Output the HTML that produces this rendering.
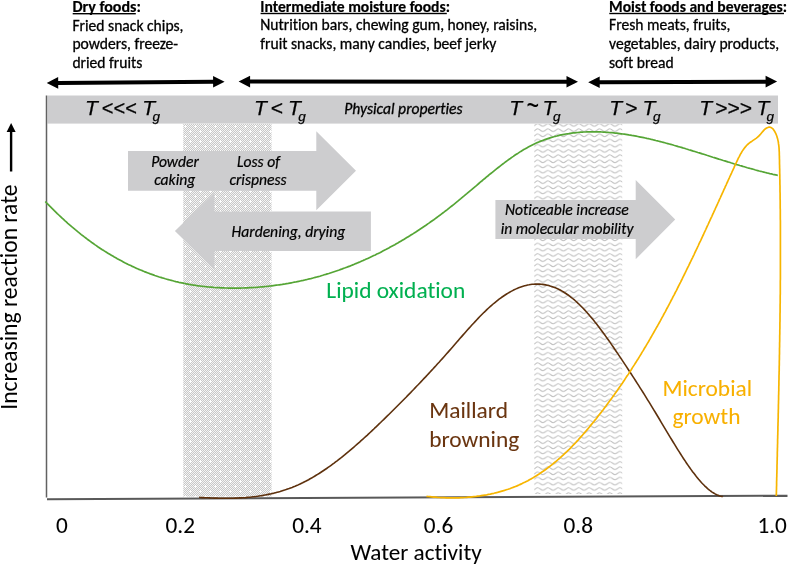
<!DOCTYPE html>
<html><head><meta charset="utf-8"><title>Water activity</title>
<style>html,body{margin:0;padding:0;background:#fff;overflow:hidden}svg{display:block}text{font-variant-ligatures:none;font-kerning:normal}</style>
</head><body>
<svg width="789" height="565" viewBox="0 0 789 565">
<defs>
<pattern id="dots" patternUnits="userSpaceOnUse" width="10" height="10" x="183" y="124">
<rect width="10" height="10" fill="#f4f4f4"/>
<path d="M0,0h1v1h-1zM2,0h1v1h-1zM4,0h1v1h-1zM6,0h1v1h-1zM8,0h1v1h-1zM1,1h1v1h-1zM3,1h1v1h-1zM5,1h1v1h-1zM7,1h1v1h-1zM9,1h1v1h-1zM0,2h1v1h-1zM2,2h1v1h-1zM4,2h1v1h-1zM6,2h1v1h-1zM8,2h1v1h-1zM1,3h1v1h-1zM3,3h1v1h-1zM5,3h1v1h-1zM7,3h1v1h-1zM9,3h1v1h-1zM0,4h1v1h-1zM2,4h1v1h-1zM4,4h1v1h-1zM6,4h1v1h-1zM8,4h1v1h-1zM1,5h1v1h-1zM3,5h1v1h-1zM5,5h1v1h-1zM7,5h1v1h-1zM9,5h1v1h-1zM0,6h1v1h-1zM2,6h1v1h-1zM4,6h1v1h-1zM6,6h1v1h-1zM8,6h1v1h-1zM1,7h1v1h-1zM3,7h1v1h-1zM5,7h1v1h-1zM7,7h1v1h-1zM9,7h1v1h-1zM0,8h1v1h-1zM2,8h1v1h-1zM4,8h1v1h-1zM6,8h1v1h-1zM8,8h1v1h-1zM1,9h1v1h-1zM3,9h1v1h-1zM5,9h1v1h-1zM7,9h1v1h-1zM9,9h1v1h-1z" fill="#c8c8c8"/>
<path d="M2,2h1v1h-1zM3,2h1v1h-1zM1,2h1v1h-1zM2,3h1v1h-1zM2,1h1v1h-1zM7,7h1v1h-1zM8,7h1v1h-1zM6,7h1v1h-1zM7,8h1v1h-1zM7,6h1v1h-1z" fill="#ffffff"/>
</pattern>
<pattern id="waves" patternUnits="userSpaceOnUse" width="10.3" height="5.2" x="535.1" y="123">
<rect width="10.3" height="5.2" fill="#ffffff"/>
<path d="M-7.7,0.6 C-5.9,0.6 -4.4,3.3 -2.55,3.3 C-0.7,3.3 0.8,0.6 2.6,0.6 C4.4,0.6 5.9,3.3 7.75,3.3 C9.6,3.3 11.1,0.6 12.9,0.6" fill="none" stroke="#bcbcbc" stroke-width="0.9"/>
</pattern>
</defs>

<text textLength="68.45" lengthAdjust="spacingAndGlyphs" x="72.4" y="11.8" font-size="16" font-weight="bold" font-family="Carlito, 'Liberation Sans', sans-serif" stroke="#000" stroke-width="0.2">Dry foods:</text><rect x="72.7" y="13.0" width="63.10000000000001" height="1.4" fill="#000"/><text textLength="111.11" lengthAdjust="spacingAndGlyphs" x="72.4" y="30.5" font-size="15.6" font-family="Carlito, 'Liberation Sans', sans-serif" stroke="#000" stroke-width="0.3">Fried snack chips,</text><text textLength="105.70" lengthAdjust="spacingAndGlyphs" x="72.4" y="49.3" font-size="15.6" font-family="Carlito, 'Liberation Sans', sans-serif" stroke="#000" stroke-width="0.3">powders, freeze-</text><text textLength="69.98" lengthAdjust="spacingAndGlyphs" x="72.4" y="68.0" font-size="15.6" font-family="Carlito, 'Liberation Sans', sans-serif" stroke="#000" stroke-width="0.3">dried fruits</text>
<text textLength="189.69" lengthAdjust="spacingAndGlyphs" x="260.3" y="11.600000000000001" font-size="15.6" font-weight="bold" font-family="Carlito, 'Liberation Sans', sans-serif" stroke="#000" stroke-width="0.2">Intermediate moisture foods:</text><rect x="260.6" y="12.8" width="186.2" height="1.4" fill="#000"/><text textLength="276.91" lengthAdjust="spacingAndGlyphs" x="260.3" y="30.3" font-size="15.6" font-family="Carlito, 'Liberation Sans', sans-serif" stroke="#000" stroke-width="0.3">Nutrition bars, chewing gum, honey, raisins,</text><text textLength="236.05" lengthAdjust="spacingAndGlyphs" x="260.3" y="49.099999999999994" font-size="15.6" font-family="Carlito, 'Liberation Sans', sans-serif" stroke="#000" stroke-width="0.3">fruit snacks, many candies, beef jerky</text>
<text textLength="178.09" lengthAdjust="spacingAndGlyphs" x="609.0" y="11.600000000000001" font-size="15.6" font-weight="bold" font-family="Carlito, 'Liberation Sans', sans-serif" stroke="#000" stroke-width="0.2">Moist foods and beverages:</text><rect x="609.3" y="12.8" width="174.7" height="1.4" fill="#000"/><text textLength="121.44" lengthAdjust="spacingAndGlyphs" x="609.0" y="30.3" font-size="15.6" font-family="Carlito, 'Liberation Sans', sans-serif" stroke="#000" stroke-width="0.3">Fresh meats, fruits,</text><text textLength="170.22" lengthAdjust="spacingAndGlyphs" x="609.0" y="49.099999999999994" font-size="15.6" font-family="Carlito, 'Liberation Sans', sans-serif" stroke="#000" stroke-width="0.3">vegetables, dairy products,</text><text textLength="64.69" lengthAdjust="spacingAndGlyphs" x="609.0" y="67.8" font-size="15.6" font-family="Carlito, 'Liberation Sans', sans-serif" stroke="#000" stroke-width="0.3">soft bread</text>
<polygon points="46.70,83.00 58.16,77.12 58.19,80.92 213.09,79.78 213.06,75.98 224.60,81.70 213.14,87.58 213.11,83.78 58.21,84.92 58.24,88.72" fill="#000"/>
<polygon points="238.60,81.60 250.10,75.80 250.10,79.60 566.50,79.70 566.50,75.90 578.00,81.70 566.50,87.50 566.50,83.70 250.10,83.60 250.10,87.40" fill="#000"/>
<polygon points="588.20,82.30 599.68,76.46 599.69,80.26 765.59,79.64 765.58,75.84 777.10,81.60 765.62,87.44 765.61,83.64 599.71,84.26 599.72,88.06" fill="#000"/>
<rect x="47.5" y="95.5" width="730.5" height="28.1" fill="#cdcdcf"/>
<rect x="183.3" y="124" width="88.2" height="372.6" fill="url(#dots)"/>
<rect x="534.3" y="124" width="87.9" height="370" fill="url(#waves)"/>
<text x="84.9" y="115.4" font-size="21" font-family="'Liberation Sans', Arial, sans-serif" font-style="italic" stroke="#000" stroke-width="0.25">T</text>
<text x="0" y="0" transform="translate(101.6,115.4) scale(0.95,1)" font-size="21" font-family="'Liberation Sans', Arial, sans-serif" font-style="italic" stroke="#000" stroke-width="0.25">&lt;&lt;&lt;</text>
<text x="142.3" y="115.4" font-size="21" font-family="'Liberation Sans', Arial, sans-serif" font-style="italic" stroke="#000" stroke-width="0.25">T</text>
<text x="152.6" y="120.60000000000001" font-size="13.5" font-family="'Liberation Sans', Arial, sans-serif" font-style="italic" stroke="#000" stroke-width="0.25">g</text>
<text x="254.0" y="115.4" font-size="21" font-family="'Liberation Sans', Arial, sans-serif" font-style="italic" stroke="#000" stroke-width="0.25">T</text>
<text x="270.5" y="115.4" font-size="21" font-family="'Liberation Sans', Arial, sans-serif" font-style="italic" stroke="#000" stroke-width="0.25">&lt;</text>
<text x="288.0" y="115.4" font-size="21" font-family="'Liberation Sans', Arial, sans-serif" font-style="italic" stroke="#000" stroke-width="0.25">T</text>
<text x="298.2" y="120.60000000000001" font-size="13.5" font-family="'Liberation Sans', Arial, sans-serif" font-style="italic" stroke="#000" stroke-width="0.25">g</text>
<text x="509.2" y="115.4" font-size="21" font-family="'Liberation Sans', Arial, sans-serif" font-style="italic" stroke="#000" stroke-width="0.25">T</text>
<text x="0" y="7.6" transform="translate(526.2,104.7) scale(1.02,1.5)" font-size="21" font-family="'Liberation Sans', Arial, sans-serif" font-style="italic">~</text>
<text x="542.6" y="115.4" font-size="21" font-family="'Liberation Sans', Arial, sans-serif" font-style="italic" stroke="#000" stroke-width="0.25">T</text>
<text x="553.0" y="120.60000000000001" font-size="13.5" font-family="'Liberation Sans', Arial, sans-serif" font-style="italic" stroke="#000" stroke-width="0.25">g</text>
<text x="609.2" y="115.4" font-size="21" font-family="'Liberation Sans', Arial, sans-serif" font-style="italic" stroke="#000" stroke-width="0.25">T</text>
<text x="625.0" y="115.4" font-size="21" font-family="'Liberation Sans', Arial, sans-serif" font-style="italic" stroke="#000" stroke-width="0.25">&gt;</text>
<text x="642.6" y="115.4" font-size="21" font-family="'Liberation Sans', Arial, sans-serif" font-style="italic" stroke="#000" stroke-width="0.25">T</text>
<text x="653.0" y="120.60000000000001" font-size="13.5" font-family="'Liberation Sans', Arial, sans-serif" font-style="italic" stroke="#000" stroke-width="0.25">g</text>
<text x="699.2" y="115.4" font-size="21" font-family="'Liberation Sans', Arial, sans-serif" font-style="italic" stroke="#000" stroke-width="0.25">T</text>
<text x="715.0" y="115.4" font-size="21" font-family="'Liberation Sans', Arial, sans-serif" font-style="italic" stroke="#000" stroke-width="0.25">&gt;&gt;&gt;</text>
<text x="756.4" y="115.4" font-size="21" font-family="'Liberation Sans', Arial, sans-serif" font-style="italic" stroke="#000" stroke-width="0.25">T</text>
<text x="766.5" y="120.60000000000001" font-size="13.5" font-family="'Liberation Sans', Arial, sans-serif" font-style="italic" stroke="#000" stroke-width="0.25">g</text>
<text textLength="118.42" lengthAdjust="spacingAndGlyphs" x="344.2" y="113.5" font-size="15.6" text-anchor="start" font-family="Carlito, 'Liberation Sans', sans-serif" fill="#000" stroke="#000" stroke-width="0.3" font-style="italic">Physical properties</text>
<polygon points="128.0,150.9 316.3,150.9 316.3,131.3 356.0,170.8 316.3,210.3 316.3,190.7 128.0,190.7" fill="#cdcdcf"/>
<polygon points="370.9,211.5 214.4,211.5 214.4,192.6 174.9,231.1 214.4,269.6 214.4,251.0 370.9,251.0" fill="#cdcdcf"/>
<polygon points="495.4,200.0 635.7,200.0 635.7,180.1 675.2,219.6 635.7,259.2 635.7,239.0 495.4,239.0" fill="#cdcdcf"/>
<text textLength="47.64" lengthAdjust="spacingAndGlyphs" x="175" y="166.7" font-size="15.6" text-anchor="middle" font-family="Carlito, 'Liberation Sans', sans-serif" fill="#000" stroke="#000" stroke-width="0.22" font-style="italic">Powder</text>
<text textLength="41.11" lengthAdjust="spacingAndGlyphs" x="174.7" y="185.4" font-size="15.6" text-anchor="middle" font-family="Carlito, 'Liberation Sans', sans-serif" fill="#000" stroke="#000" stroke-width="0.22" font-style="italic">caking</text>
<text textLength="42.98" lengthAdjust="spacingAndGlyphs" x="258.5" y="166.7" font-size="15.6" text-anchor="middle" font-family="Carlito, 'Liberation Sans', sans-serif" fill="#000" stroke="#000" stroke-width="0.22" font-style="italic">Loss of</text>
<text textLength="57.11" lengthAdjust="spacingAndGlyphs" x="258.1" y="185.4" font-size="15.6" text-anchor="middle" font-family="Carlito, 'Liberation Sans', sans-serif" fill="#000" stroke="#000" stroke-width="0.22" font-style="italic">crispness</text>
<text textLength="113.64" lengthAdjust="spacingAndGlyphs" x="288.4" y="236.8" font-size="15.6" text-anchor="middle" font-family="Carlito, 'Liberation Sans', sans-serif" fill="#000" stroke="#000" stroke-width="0.22" font-style="italic">Hardening, drying</text>
<text textLength="123.69" lengthAdjust="spacingAndGlyphs" x="566.9" y="215.3" font-size="15.6" text-anchor="middle" font-family="Carlito, 'Liberation Sans', sans-serif" fill="#000" stroke="#000" stroke-width="0.22" font-style="italic">Noticeable increase</text>
<text textLength="132.75" lengthAdjust="spacingAndGlyphs" x="567.0" y="234.4" font-size="15.6" text-anchor="middle" font-family="Carlito, 'Liberation Sans', sans-serif" fill="#000" stroke="#000" stroke-width="0.22" font-style="italic">in molecular mobility</text>
<line x1="46.5" y1="95.5" x2="46.5" y2="497.5" stroke="#626262" stroke-width="1.5"/>
<line x1="47" y1="499.3" x2="787.5" y2="495.7" stroke="#595959" stroke-width="2"/>
<path d="M45.3,201.5 L46.8,203.1 L48.3,204.6 L49.8,206.2 L51.3,207.7 L52.8,209.2 L54.3,210.7 L55.8,212.1 L57.3,213.6 L58.8,215.0 L60.3,216.4 L61.8,217.8 L63.3,219.2 L64.8,220.6 L66.3,221.9 L67.8,223.3 L69.3,224.6 L70.8,225.9 L72.3,227.2 L73.8,228.4 L75.3,229.7 L76.8,230.9 L78.3,232.2 L79.8,233.4 L81.3,234.6 L82.8,235.7 L84.3,236.9 L85.8,238.0 L87.3,239.2 L88.8,240.3 L90.3,241.4 L91.8,242.5 L93.3,243.5 L94.8,244.6 L96.3,245.6 L97.8,246.7 L99.3,247.7 L100.8,248.7 L102.3,249.7 L103.8,250.6 L105.3,251.6 L106.8,252.5 L108.3,253.4 L109.8,254.3 L111.3,255.2 L112.8,256.1 L114.3,257.0 L115.8,257.8 L117.3,258.7 L118.8,259.5 L120.3,260.3 L121.8,261.1 L123.3,261.9 L124.8,262.7 L126.3,263.4 L127.8,264.2 L129.3,264.9 L130.8,265.6 L132.3,266.4 L133.8,267.0 L135.3,267.7 L136.8,268.4 L138.3,269.1 L139.8,269.7 L141.3,270.3 L142.8,270.9 L144.3,271.6 L145.8,272.1 L147.3,272.7 L148.8,273.3 L150.3,273.9 L151.8,274.4 L153.3,274.9 L154.8,275.5 L156.3,276.0 L157.8,276.5 L159.3,277.0 L160.8,277.4 L162.3,277.9 L163.8,278.3 L165.3,278.8 L166.8,279.2 L168.3,279.6 L169.8,280.0 L171.3,280.4 L172.8,280.8 L174.3,281.2 L175.8,281.6 L177.3,281.9 L178.8,282.3 L180.3,282.6 L181.8,282.9 L183.3,283.2 L184.8,283.5 L186.3,283.8 L187.8,284.1 L189.3,284.4 L190.8,284.6 L192.3,284.9 L193.8,285.1 L195.3,285.3 L196.8,285.6 L198.3,285.8 L199.8,286.0 L201.3,286.2 L202.8,286.3 L204.3,286.5 L205.8,286.7 L207.3,286.8 L208.8,287.0 L210.3,287.1 L211.8,287.2 L213.3,287.4 L214.8,287.5 L216.3,287.6 L217.8,287.7 L219.3,287.7 L220.8,287.8 L222.3,287.9 L223.8,287.9 L225.3,288.0 L226.8,288.0 L228.3,288.1 L229.8,288.1 L231.3,288.1 L232.8,288.1 L234.3,288.1 L235.8,288.1 L237.3,288.1 L238.8,288.1 L240.3,288.1 L241.8,288.0 L243.3,288.0 L244.8,287.9 L246.3,287.9 L247.8,287.8 L249.3,287.7 L250.8,287.7 L252.3,287.6 L253.8,287.5 L255.3,287.4 L256.8,287.3 L258.3,287.2 L259.8,287.0 L261.3,286.9 L262.8,286.8 L264.3,286.6 L265.8,286.5 L267.3,286.3 L268.8,286.2 L270.3,286.0 L271.8,285.8 L273.3,285.6 L274.8,285.4 L276.3,285.2 L277.8,285.0 L279.3,284.8 L280.8,284.6 L282.3,284.4 L283.8,284.1 L285.3,283.9 L286.8,283.6 L288.3,283.4 L289.8,283.1 L291.3,282.8 L292.8,282.5 L294.3,282.2 L295.8,282.0 L297.3,281.6 L298.8,281.3 L300.3,281.0 L301.8,280.7 L303.3,280.4 L304.8,280.0 L306.3,279.7 L307.8,279.3 L309.3,278.9 L310.8,278.6 L312.3,278.2 L313.8,277.8 L315.3,277.4 L316.8,277.0 L318.3,276.6 L319.8,276.2 L321.3,275.7 L322.8,275.3 L324.3,274.8 L325.8,274.4 L327.3,273.9 L328.8,273.5 L330.3,273.0 L331.8,272.5 L333.3,272.0 L334.8,271.5 L336.3,271.0 L337.8,270.5 L339.3,270.0 L340.8,269.4 L342.3,268.9 L343.8,268.3 L345.3,267.8 L346.8,267.2 L348.3,266.6 L349.8,266.1 L351.3,265.5 L352.8,264.9 L354.3,264.3 L355.8,263.6 L357.3,263.0 L358.8,262.4 L360.3,261.8 L361.8,261.1 L363.3,260.4 L364.8,259.8 L366.3,259.1 L367.8,258.4 L369.3,257.7 L370.8,257.0 L372.3,256.3 L373.8,255.6 L375.3,254.9 L376.8,254.1 L378.3,253.4 L379.8,252.7 L381.3,251.9 L382.8,251.1 L384.3,250.3 L385.8,249.6 L387.3,248.8 L388.8,248.0 L390.3,247.1 L391.8,246.3 L393.3,245.5 L394.8,244.7 L396.3,243.8 L397.8,243.0 L399.3,242.1 L400.8,241.2 L402.3,240.3 L403.8,239.4 L405.3,238.5 L406.8,237.6 L408.3,236.7 L409.8,235.8 L411.3,234.8 L412.8,233.9 L414.3,232.9 L415.8,232.0 L417.3,231.0 L418.8,230.0 L420.3,229.0 L421.8,228.0 L423.3,227.0 L424.8,226.0 L426.3,225.0 L427.8,223.9 L429.3,222.9 L430.8,221.8 L432.3,220.7 L433.8,219.7 L435.3,218.6 L436.8,217.5 L438.3,216.4 L439.8,215.3 L441.3,214.1 L442.8,213.0 L444.3,211.9 L445.8,210.7 L447.3,209.6 L448.8,208.4 L450.3,207.2 L451.8,206.0 L453.3,204.8 L454.8,203.6 L456.3,202.4 L457.8,201.2 L459.3,199.9 L460.8,198.7 L462.3,197.4 L463.8,196.2 L465.3,194.9 L466.8,193.7 L468.3,192.4 L469.8,191.1 L471.3,189.9 L472.8,188.6 L474.3,187.3 L475.8,186.1 L477.3,184.8 L478.8,183.5 L480.3,182.2 L481.8,181.0 L483.3,179.7 L484.8,178.5 L486.3,177.2 L487.8,176.0 L489.3,174.7 L490.8,173.5 L492.3,172.3 L493.8,171.1 L495.3,169.9 L496.8,168.7 L498.3,167.5 L499.8,166.3 L501.3,165.1 L502.8,164.0 L504.3,162.9 L505.8,161.7 L507.3,160.6 L508.8,159.5 L510.3,158.5 L511.8,157.4 L513.3,156.4 L514.8,155.3 L516.3,154.3 L517.8,153.4 L519.3,152.4 L520.8,151.4 L522.3,150.5 L523.8,149.6 L525.3,148.8 L526.8,147.9 L528.3,147.1 L529.8,146.3 L531.3,145.5 L532.8,144.7 L534.3,144.0 L535.8,143.3 L537.3,142.6 L538.8,142.0 L540.3,141.4 L541.8,140.8 L543.3,140.2 L544.8,139.6 L546.3,139.1 L547.8,138.6 L549.3,138.1 L550.8,137.6 L552.3,137.2 L553.8,136.8 L555.3,136.3 L556.8,136.0 L558.3,135.6 L559.8,135.2 L561.3,134.9 L562.8,134.6 L564.3,134.3 L565.8,134.0 L567.3,133.8 L568.8,133.6 L570.3,133.3 L571.8,133.1 L573.3,132.9 L574.8,132.8 L576.3,132.6 L577.8,132.5 L579.3,132.3 L580.8,132.2 L582.3,132.1 L583.8,132.0 L585.3,132.0 L586.8,131.9 L588.3,131.9 L589.8,131.8 L591.3,131.8 L592.8,131.8 L594.3,131.8 L595.8,131.8 L597.3,131.9 L598.8,131.9 L600.3,131.9 L601.8,132.0 L603.3,132.1 L604.8,132.2 L606.3,132.3 L607.8,132.4 L609.3,132.5 L610.8,132.6 L612.3,132.7 L613.8,132.9 L615.3,133.1 L616.8,133.2 L618.3,133.4 L619.8,133.6 L621.3,133.8 L622.8,134.0 L624.3,134.2 L625.8,134.4 L627.3,134.6 L628.8,134.9 L630.3,135.1 L631.8,135.4 L633.3,135.6 L634.8,135.9 L636.3,136.2 L637.8,136.5 L639.3,136.8 L640.8,137.1 L642.3,137.4 L643.8,137.7 L645.3,138.0 L646.8,138.4 L648.3,138.7 L649.8,139.0 L651.3,139.4 L652.8,139.7 L654.3,140.1 L655.8,140.5 L657.3,140.8 L658.8,141.2 L660.3,141.6 L661.8,142.0 L663.3,142.4 L664.8,142.8 L666.3,143.2 L667.8,143.6 L669.3,144.0 L670.8,144.4 L672.3,144.8 L673.8,145.3 L675.3,145.7 L676.8,146.1 L678.3,146.6 L679.8,147.0 L681.3,147.4 L682.8,147.9 L684.3,148.3 L685.8,148.8 L687.3,149.2 L688.8,149.7 L690.3,150.1 L691.8,150.6 L693.3,151.1 L694.8,151.5 L696.3,152.0 L697.8,152.5 L699.3,152.9 L700.8,153.4 L702.3,153.9 L703.8,154.3 L705.3,154.8 L706.8,155.3 L708.3,155.7 L709.8,156.2 L711.3,156.7 L712.8,157.2 L714.3,157.6 L715.8,158.1 L717.3,158.6 L718.8,159.1 L720.3,159.5 L721.8,160.0 L723.3,160.5 L724.8,160.9 L726.3,161.4 L727.8,161.9 L729.3,162.3 L730.8,162.8 L732.3,163.2 L733.8,163.7 L735.3,164.1 L736.8,164.6 L738.3,165.0 L739.8,165.5 L741.3,165.9 L742.8,166.4 L744.3,166.8 L745.8,167.2 L747.3,167.7 L748.8,168.1 L750.3,168.5 L751.8,168.9 L753.3,169.3 L754.8,169.8 L756.3,170.2 L757.8,170.6 L759.3,171.0 L760.8,171.3 L762.3,171.7 L763.8,172.1 L765.3,172.5 L766.8,172.9 L768.3,173.2 L769.8,173.6 L771.3,173.9 L772.8,174.3 L774.3,174.6 L775.8,174.9 L777.3,175.3 L777.8,175.4" fill="none" stroke="#55a535" stroke-width="1.7" stroke-linejoin="round"/>
<path d="M199.1,497.4 L200.6,497.5 L202.1,497.6 L203.6,497.6 L205.1,497.7 L206.6,497.8 L208.1,497.8 L209.6,497.9 L211.1,498.0 L212.6,498.0 L214.1,498.1 L215.6,498.1 L217.1,498.1 L218.6,498.2 L220.1,498.2 L221.6,498.2 L223.1,498.2 L224.6,498.3 L226.1,498.3 L227.6,498.3 L229.1,498.2 L230.6,498.2 L232.1,498.2 L233.6,498.2 L235.1,498.1 L236.6,498.1 L238.1,498.0 L239.6,497.9 L241.1,497.9 L242.6,497.8 L244.1,497.7 L245.6,497.6 L247.1,497.4 L248.6,497.3 L250.1,497.2 L251.6,497.0 L253.1,496.8 L254.6,496.7 L256.1,496.5 L257.6,496.3 L259.1,496.0 L260.6,495.8 L262.1,495.6 L263.6,495.3 L265.1,495.0 L266.6,494.7 L268.1,494.4 L269.6,494.1 L271.1,493.8 L272.6,493.4 L274.1,493.1 L275.6,492.7 L277.1,492.3 L278.6,491.9 L280.1,491.5 L281.6,491.0 L283.1,490.5 L284.6,490.1 L286.1,489.6 L287.6,489.0 L289.1,488.5 L290.6,487.9 L292.1,487.4 L293.6,486.8 L295.1,486.2 L296.6,485.5 L298.1,484.9 L299.6,484.2 L301.1,483.5 L302.6,482.8 L304.1,482.0 L305.6,481.3 L307.1,480.5 L308.6,479.7 L310.1,478.8 L311.6,478.0 L313.1,477.1 L314.6,476.2 L316.1,475.3 L317.6,474.4 L319.1,473.5 L320.6,472.5 L322.1,471.5 L323.6,470.5 L325.1,469.5 L326.6,468.5 L328.1,467.4 L329.6,466.4 L331.1,465.3 L332.6,464.2 L334.1,463.1 L335.6,461.9 L337.1,460.8 L338.6,459.6 L340.1,458.5 L341.6,457.3 L343.1,456.1 L344.6,454.9 L346.1,453.6 L347.6,452.4 L349.1,451.2 L350.6,449.9 L352.1,448.6 L353.6,447.3 L355.1,446.0 L356.6,444.7 L358.1,443.4 L359.6,442.1 L361.1,440.7 L362.6,439.4 L364.1,438.0 L365.6,436.6 L367.1,435.3 L368.6,433.9 L370.1,432.5 L371.6,431.1 L373.1,429.7 L374.6,428.2 L376.1,426.8 L377.6,425.4 L379.1,423.9 L380.6,422.5 L382.1,421.0 L383.6,419.6 L385.1,418.1 L386.6,416.6 L388.1,415.2 L389.6,413.7 L391.1,412.2 L392.6,410.7 L394.1,409.2 L395.6,407.7 L397.1,406.2 L398.6,404.7 L400.1,403.2 L401.6,401.7 L403.1,400.2 L404.6,398.7 L406.1,397.2 L407.6,395.6 L409.1,394.1 L410.6,392.6 L412.1,391.0 L413.6,389.5 L415.1,387.9 L416.6,386.3 L418.1,384.8 L419.6,383.2 L421.1,381.6 L422.6,380.0 L424.1,378.4 L425.6,376.9 L427.1,375.2 L428.6,373.6 L430.1,372.0 L431.6,370.4 L433.1,368.8 L434.6,367.1 L436.1,365.5 L437.6,363.8 L439.1,362.2 L440.6,360.5 L442.1,358.9 L443.6,357.2 L445.1,355.5 L446.6,353.8 L448.1,352.1 L449.6,350.4 L451.1,348.7 L452.6,347.0 L454.1,345.2 L455.6,343.5 L457.1,341.8 L458.6,340.1 L460.1,338.3 L461.6,336.6 L463.1,334.9 L464.6,333.2 L466.1,331.5 L467.6,329.8 L469.1,328.1 L470.6,326.5 L472.1,324.8 L473.6,323.2 L475.1,321.6 L476.6,320.0 L478.1,318.4 L479.6,316.8 L481.1,315.3 L482.6,313.8 L484.1,312.3 L485.6,310.9 L487.1,309.4 L488.6,308.0 L490.1,306.7 L491.6,305.3 L493.1,304.0 L494.6,302.8 L496.1,301.6 L497.6,300.4 L499.1,299.2 L500.6,298.1 L502.1,297.0 L503.6,296.0 L505.1,295.0 L506.6,294.0 L508.1,293.1 L509.6,292.2 L511.1,291.4 L512.6,290.6 L514.1,289.8 L515.6,289.1 L517.1,288.4 L518.6,287.8 L520.1,287.2 L521.6,286.7 L523.1,286.2 L524.6,285.8 L526.1,285.4 L527.6,285.0 L529.1,284.8 L530.6,284.5 L532.1,284.3 L533.6,284.2 L535.1,284.1 L536.6,284.0 L538.1,284.1 L539.6,284.1 L541.1,284.2 L542.6,284.4 L544.1,284.6 L545.6,284.9 L547.1,285.2 L548.6,285.5 L550.1,286.0 L551.6,286.4 L553.1,286.9 L554.6,287.5 L556.1,288.1 L557.6,288.8 L559.1,289.5 L560.6,290.3 L562.1,291.1 L563.6,292.0 L565.1,293.0 L566.6,294.0 L568.1,295.0 L569.6,296.1 L571.1,297.3 L572.6,298.5 L574.1,299.7 L575.6,301.0 L577.1,302.4 L578.6,303.8 L580.1,305.3 L581.6,306.8 L583.1,308.3 L584.6,309.9 L586.1,311.5 L587.6,313.2 L589.1,314.9 L590.6,316.7 L592.1,318.5 L593.6,320.3 L595.1,322.2 L596.6,324.1 L598.1,326.0 L599.6,328.0 L601.1,330.0 L602.6,332.0 L604.1,334.0 L605.6,336.1 L607.1,338.2 L608.6,340.3 L610.1,342.4 L611.6,344.6 L613.1,346.8 L614.6,349.0 L616.1,351.2 L617.6,353.4 L619.1,355.6 L620.6,357.9 L622.1,360.1 L623.6,362.4 L625.1,364.6 L626.6,366.9 L628.1,369.2 L629.6,371.5 L631.1,373.8 L632.6,376.1 L634.1,378.4 L635.6,380.7 L637.1,383.1 L638.6,385.4 L640.1,387.8 L641.6,390.2 L643.1,392.5 L644.6,394.9 L646.1,397.3 L647.6,399.8 L649.1,402.2 L650.6,404.6 L652.1,407.1 L653.6,409.6 L655.1,412.0 L656.6,414.5 L658.1,417.0 L659.6,419.5 L661.1,422.1 L662.6,424.6 L664.1,427.1 L665.6,429.6 L667.1,432.1 L668.6,434.6 L670.1,437.1 L671.6,439.5 L673.1,442.0 L674.6,444.4 L676.1,446.9 L677.6,449.3 L679.1,451.7 L680.6,454.0 L682.1,456.4 L683.6,458.7 L685.1,460.9 L686.6,463.2 L688.1,465.4 L689.6,467.5 L691.1,469.6 L692.6,471.7 L694.1,473.6 L695.6,475.6 L697.1,477.4 L698.6,479.3 L700.1,481.0 L701.6,482.7 L703.1,484.3 L704.6,485.8 L706.1,487.2 L707.6,488.6 L709.1,489.8 L710.6,491.0 L712.1,492.1 L713.6,493.0 L715.1,493.9 L716.6,494.7 L718.1,495.3 L719.6,495.9 L721.1,496.3 L722.6,496.6 L722.7,496.7" fill="none" stroke="#5e310d" stroke-width="1.6" stroke-linejoin="round"/>
<path d="M426.5,496.3 L428.3,496.5 L430.0,496.7 L431.8,496.9 L433.6,497.1 L435.4,497.2 L437.2,497.4 L439.0,497.5 L440.8,497.6 L442.6,497.7 L444.4,497.7 L446.3,497.8 L448.1,497.8 L449.9,497.9 L451.8,497.9 L453.6,497.9 L455.4,497.9 L457.3,497.8 L459.1,497.8 L461.0,497.7 L462.8,497.6 L464.7,497.5 L466.5,497.4 L468.4,497.2 L470.2,497.1 L472.0,496.9 L473.9,496.7 L475.7,496.5 L477.6,496.2 L479.4,496.0 L481.2,495.7 L483.1,495.4 L484.9,495.1 L486.7,494.8 L488.5,494.4 L490.3,494.1 L492.1,493.7 L493.9,493.3 L495.7,492.8 L497.5,492.4 L499.3,491.9 L501.0,491.4 L502.8,490.9 L504.5,490.4 L506.3,489.8 L508.0,489.3 L509.7,488.7 L511.4,488.0 L513.1,487.4 L514.8,486.7 L516.5,486.1 L518.1,485.4 L519.8,484.6 L521.4,483.9 L523.0,483.1 L524.7,482.3 L526.3,481.5 L527.9,480.7 L529.4,479.8 L531.0,478.9 L532.6,478.1 L534.1,477.1 L535.6,476.2 L537.1,475.3 L538.7,474.3 L540.2,473.3 L541.6,472.3 L543.1,471.3 L544.6,470.2 L546.0,469.2 L547.5,468.1 L548.9,467.0 L550.4,465.9 L551.8,464.8 L553.2,463.7 L554.6,462.5 L556.0,461.4 L557.4,460.2 L558.7,459.0 L560.1,457.8 L561.4,456.6 L562.8,455.4 L564.1,454.1 L565.4,452.9 L566.8,451.6 L568.1,450.3 L569.4,449.1 L570.7,447.8 L571.9,446.5 L573.2,445.1 L574.5,443.8 L575.8,442.5 L577.0,441.1 L578.3,439.8 L579.5,438.4 L580.7,437.1 L582.0,435.7 L583.2,434.3 L584.4,432.9 L585.6,431.5 L586.8,430.1 L588.0,428.7 L589.2,427.3 L590.3,425.9 L591.5,424.4 L592.7,423.0 L593.9,421.6 L595.0,420.1 L596.2,418.7 L597.3,417.2 L598.4,415.8 L599.6,414.3 L600.7,412.9 L601.8,411.4 L603.0,410.0 L604.1,408.5 L605.2,407.0 L606.3,405.6 L607.4,404.1 L608.5,402.6 L609.6,401.1 L610.6,399.7 L611.7,398.2 L612.8,396.7 L613.9,395.2 L614.9,393.7 L616.0,392.2 L617.1,390.7 L618.1,389.2 L619.1,387.7 L620.2,386.2 L621.2,384.7 L622.3,383.2 L623.3,381.7 L624.3,380.2 L625.3,378.6 L626.3,377.1 L627.4,375.6 L628.4,374.1 L629.4,372.5 L630.4,371.0 L631.4,369.5 L632.3,367.9 L633.3,366.4 L634.3,364.9 L635.3,363.3 L636.3,361.8 L637.2,360.2 L638.2,358.7 L639.2,357.1 L640.1,355.6 L641.1,354.0 L642.0,352.4 L643.0,350.9 L643.9,349.3 L644.8,347.8 L645.8,346.2 L646.7,344.6 L647.6,343.1 L648.6,341.5 L649.5,339.9 L650.4,338.3 L651.3,336.8 L652.2,335.2 L653.1,333.6 L654.0,332.0 L654.9,330.4 L655.8,328.8 L656.7,327.2 L657.6,325.7 L658.5,324.1 L659.4,322.5 L660.3,320.9 L661.1,319.3 L662.0,317.7 L662.9,316.1 L663.7,314.5 L664.6,312.9 L665.5,311.3 L666.3,309.7 L667.2,308.0 L668.1,306.4 L668.9,304.8 L669.8,303.2 L670.6,301.6 L671.4,300.0 L672.3,298.4 L673.1,296.7 L674.0,295.1 L674.8,293.5 L675.6,291.9 L676.5,290.3 L677.3,288.6 L678.1,287.0 L678.9,285.4 L679.7,283.8 L680.6,282.1 L681.4,280.5 L682.2,278.9 L683.0,277.2 L683.8,275.6 L684.6,274.0 L685.4,272.3 L686.2,270.7 L687.0,269.0 L687.8,267.4 L688.6,265.8 L689.4,264.1 L690.2,262.5 L691.0,260.8 L691.8,259.2 L692.6,257.6 L693.4,255.9 L694.2,254.3 L694.9,252.6 L695.7,251.0 L696.5,249.3 L697.3,247.7 L698.1,246.0 L698.8,244.4 L699.6,242.7 L700.4,241.1 L701.2,239.4 L701.9,237.8 L702.7,236.1 L703.5,234.5 L704.2,232.8 L705.0,231.2 L705.8,229.5 L706.5,227.9 L707.3,226.2 L708.1,224.5 L708.8,222.9 L709.6,221.2 L710.3,219.6 L711.1,217.9 L711.9,216.3 L712.6,214.6 L713.4,212.9 L714.1,211.3 L714.9,209.6 L715.6,208.0 L716.4,206.3 L717.2,204.7 L717.9,203.0 L718.7,201.3 L719.4,199.7 L720.2,198.0 L720.9,196.4 L721.7,194.7 L722.4,193.1 L723.2,191.4 L723.9,189.7 L724.7,188.1 L725.4,186.4 L726.2,184.8 L726.9,183.1 L727.7,181.5 L728.4,179.8 L729.2,178.1 L729.9,176.5 L730.7,174.8 L731.5,173.1 L732.2,171.5 L733.0,169.8 L733.8,168.1 L734.5,166.4 L735.3,164.7 L736.1,163.0 L736.9,161.3 L737.7,159.6 L738.5,157.9 L739.4,156.3 L740.2,154.6 L741.2,153.0 L742.1,151.4 L743.1,149.9 L744.1,148.5 L745.2,147.1 L746.4,145.7 L747.6,144.5 L748.9,143.4 L750.2,142.3 L751.7,141.4 L753.1,140.4 L754.6,139.4 L756.1,138.4 L757.6,137.2 L759.0,135.8 L760.1,134.7 L761.1,133.5 L762.1,132.3 L763.1,131.1 L764.4,129.7 L765.8,128.5 L767.2,127.7 L768.6,127.2 L770.1,127.2 L771.6,127.8 L772.9,128.8 L773.9,130.2 L774.9,131.8 L775.7,133.4 L776.4,135.0 L777.0,136.7 L777.5,138.4 L777.9,140.1 L778.3,141.9 L778.5,143.7 L778.8,145.5 L779.0,147.3 L779.1,149.1 L779.2,150.9 L779.3,152.8 L779.3,154.6 L779.4,156.5 L779.4,158.3 L779.5,160.1 L779.5,162.0 L779.5,163.8 L779.6,165.7 L779.6,167.5 L779.7,169.4 L779.7,171.2 L779.7,173.1 L779.8,174.9 L779.8,176.7 L779.8,178.6 L779.9,180.4 L779.9,182.3 L779.9,184.1 L780.0,185.9 L780.0,187.8 L780.0,189.6 L780.0,191.5 L780.1,193.3 L780.1,195.1 L780.1,197.0 L780.1,198.8 L780.2,200.6 L780.2,202.5 L780.2,204.3 L780.2,206.1 L780.2,208.0 L780.3,209.8 L780.3,211.6 L780.3,213.5 L780.3,215.3 L780.3,217.1 L780.3,219.0 L780.4,220.8 L780.4,222.6 L780.4,224.5 L780.4,226.3 L780.4,228.1 L780.4,230.0 L780.4,231.8 L780.4,233.6 L780.4,235.5 L780.4,237.3 L780.4,239.1 L780.4,240.9 L780.4,242.8 L780.4,244.6 L780.4,246.4 L780.4,248.3 L780.4,250.1 L780.4,251.9 L780.4,253.7 L780.4,255.6 L780.4,257.4 L780.4,259.2 L780.4,261.0 L780.4,262.9 L780.4,264.7 L780.4,266.5 L780.4,268.3 L780.4,270.2 L780.4,272.0 L780.4,273.8 L780.4,275.6 L780.4,277.5 L780.4,279.3 L780.3,281.1 L780.3,282.9 L780.3,284.8 L780.3,286.6 L780.3,288.4 L780.3,290.2 L780.3,292.1 L780.3,293.9 L780.2,295.7 L780.2,297.5 L780.2,299.3 L780.2,301.2 L780.2,303.0 L780.1,304.8 L780.1,306.6 L780.1,308.5 L780.1,310.3 L780.1,312.1 L780.0,313.9 L780.0,315.7 L780.0,317.6 L780.0,319.4 L780.0,321.2 L779.9,323.0 L779.9,324.8 L779.9,326.7 L779.9,328.5 L779.8,330.3 L779.8,332.1 L779.8,334.0 L779.7,335.8 L779.7,337.6 L779.7,339.4 L779.7,341.2 L779.6,343.1 L779.6,344.9 L779.6,346.7 L779.5,348.5 L779.5,350.3 L779.5,352.2 L779.5,354.0 L779.4,355.8 L779.4,357.6 L779.4,359.4 L779.3,361.3 L779.3,363.1 L779.3,364.9 L779.2,366.7 L779.2,368.5 L779.2,370.4 L779.1,372.2 L779.1,374.0 L779.0,375.8 L779.0,377.7 L779.0,379.5 L778.9,381.3 L778.9,383.1 L778.9,384.9 L778.8,386.8 L778.8,388.6 L778.8,390.4 L778.7,392.2 L778.7,394.1 L778.6,395.9 L778.6,397.7 L778.6,399.5 L778.5,401.3 L778.5,403.2 L778.4,405.0 L778.4,406.8 L778.4,408.6 L778.3,410.5 L778.3,412.3 L778.2,414.1 L778.2,415.9 L778.2,417.8 L778.1,419.6 L778.1,421.4 L778.0,423.2 L778.0,425.1 L777.9,426.9 L777.9,428.7 L777.9,430.5 L777.8,432.4 L777.8,434.2 L777.7,436.0 L777.7,437.8 L777.6,439.7 L777.6,441.5 L777.6,443.3 L777.5,445.2 L777.5,447.0 L777.4,448.8 L777.4,450.6 L777.3,452.5 L777.3,454.3 L777.3,456.1 L777.2,458.0 L777.2,459.8 L777.1,461.6 L777.1,463.5 L777.0,465.3 L777.0,467.1 L777.0,469.0 L776.9,470.8 L776.9,472.6 L776.8,474.5 L776.8,476.3 L776.7,478.1 L776.7,480.0 L776.6,481.8 L776.6,483.6 L776.6,485.5 L776.5,487.3 L776.5,489.1 L776.4,491.0 L776.4,492.8 L776.3,494.6 L776.3,496.0" fill="none" stroke="#f7b500" stroke-width="1.7" stroke-linejoin="round"/>
<text textLength="138.92" lengthAdjust="spacingAndGlyphs" x="326.3" y="298.2" font-size="23.4" text-anchor="start" font-family="Carlito, 'Liberation Sans', sans-serif" fill="#00b050" stroke="#00b050" stroke-width="0.05" >Lipid oxidation</text>
<text textLength="78.64" lengthAdjust="spacingAndGlyphs" x="429.3" y="418.4" font-size="23.4" text-anchor="start" font-family="Carlito, 'Liberation Sans', sans-serif" fill="#6a3510" stroke="#6a3510" stroke-width="0.05" >Maillard</text>
<text textLength="90.00" lengthAdjust="spacingAndGlyphs" x="429.3" y="446.7" font-size="23.4" text-anchor="start" font-family="Carlito, 'Liberation Sans', sans-serif" fill="#6a3510" stroke="#6a3510" stroke-width="0.05" >browning</text>
<text textLength="89.61" lengthAdjust="spacingAndGlyphs" x="707.3" y="395.9" font-size="23.4" text-anchor="middle" font-family="Carlito, 'Liberation Sans', sans-serif" fill="#f8b000" stroke="#f8b000" stroke-width="0.05" >Microbial</text>
<text textLength="67.92" lengthAdjust="spacingAndGlyphs" x="706.5" y="423.8" font-size="23.4" text-anchor="middle" font-family="Carlito, 'Liberation Sans', sans-serif" fill="#f8b000" stroke="#f8b000" stroke-width="0.05" >growth</text>
<text textLength="11.77" lengthAdjust="spacingAndGlyphs" x="62" y="532.8" font-size="23.2" text-anchor="middle" font-family="Carlito, 'Liberation Sans', sans-serif" fill="#000" stroke="#000" stroke-width="0.05" >0</text>
<text textLength="29.36" lengthAdjust="spacingAndGlyphs" x="180.3" y="532.8" font-size="23.2" text-anchor="middle" font-family="Carlito, 'Liberation Sans', sans-serif" fill="#000" stroke="#000" stroke-width="0.05" >0.2</text>
<text textLength="29.36" lengthAdjust="spacingAndGlyphs" x="306.9" y="532.8" font-size="23.2" text-anchor="middle" font-family="Carlito, 'Liberation Sans', sans-serif" fill="#000" stroke="#000" stroke-width="0.05" >0.4</text>
<text textLength="29.36" lengthAdjust="spacingAndGlyphs" x="438.5" y="532.8" font-size="23.2" text-anchor="middle" font-family="Carlito, 'Liberation Sans', sans-serif" fill="#000" stroke="#000" stroke-width="0.05" >0.6</text>
<text textLength="29.36" lengthAdjust="spacingAndGlyphs" x="578.3" y="532.8" font-size="23.2" text-anchor="middle" font-family="Carlito, 'Liberation Sans', sans-serif" fill="#000" stroke="#000" stroke-width="0.05" >0.8</text>
<text textLength="29.36" lengthAdjust="spacingAndGlyphs" x="772.2" y="532.8" font-size="23.2" text-anchor="middle" font-family="Carlito, 'Liberation Sans', sans-serif" fill="#000" stroke="#000" stroke-width="0.05" >1.0</text>
<text textLength="131.16" lengthAdjust="spacingAndGlyphs" x="350.5" y="560.2" font-size="23.2" text-anchor="start" font-family="Carlito, 'Liberation Sans', sans-serif" fill="#000" stroke="#000" stroke-width="0.05" >Water activity</text>
<text textLength="225.39" lengthAdjust="spacingAndGlyphs" transform="translate(17.2,409.8) rotate(-90)" font-size="23.6" font-family="Carlito, 'Liberation Sans', sans-serif">Increasing reaction rate</text>
<rect x="9.9" y="130" width="2.4" height="41.5" fill="#000"/>
<polygon points="11.1,123.1 15.6,132 6.6,132" fill="#000"/>
</svg></body></html>
